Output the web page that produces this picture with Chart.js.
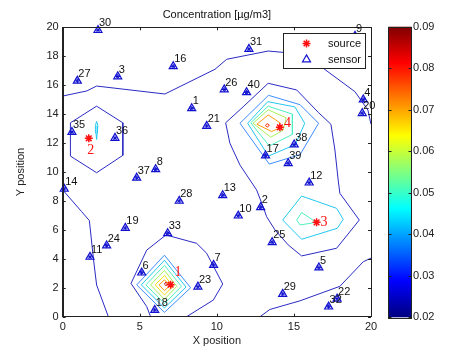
<!DOCTYPE html>
<html><head><meta charset="utf-8">
<script src="https://cdn.jsdelivr.net/npm/chart.js@4/dist/chart.umd.min.js"></script>
<style>html,body{margin:0;padding:0;background:#fff;}</style>
</head><body>
<canvas id="c" width="474" height="355"></canvas>
<script>
// ---------- data ----------
const xTicks = [0, 5, 10, 15, 20];
const yTicks = [0, 2, 4, 6, 8, 10, 12, 14, 16, 18, 20];
const colorbarTicks = [0.02, 0.03, 0.04, 0.05, 0.06, 0.07, 0.08, 0.09];

const sensorIds = [1, 2, 3, 4, 5, 6, 7, 8, 9, 10, 11, 12, 13, 14, 16, 17, 18, 19, 20, 21, 22, 23, 24, 25, 26, 27, 28, 29, 30, 31, 32, 33, 35, 36, 37, 38, 39, 40];
const sensorX = [8.37, 12.84, 3.57, 19.5, 16.62, 5.12, 9.79, 6.03, 18.96, 11.39, 1.77, 15.99, 10.38, 0.1, 7.17, 13.16, 5.97, 4.06, 19.43, 9.34, 17.8, 8.77, 2.85, 13.59, 10.48, 0.95, 7.56, 14.27, 2.29, 12.08, 17.25, 6.81, 0.6, 3.39, 4.8, 15.02, 14.63, 11.93];
const sensorY = [14.4, 7.56, 16.6, 15.0, 3.39, 3.04, 3.57, 10.18, 19.4, 6.98, 4.13, 9.26, 8.39, 8.83, 17.3, 11.13, 0.46, 6.13, 14.06, 13.18, 1.24, 2.07, 4.91, 5.14, 15.7, 16.3, 8.0, 1.57, 19.8, 18.5, 0.69, 5.76, 12.76, 12.35, 9.6, 11.89, 10.6, 15.5];

const sourceIds = [1, 2, 3, 4];
const sourceX = [7.0, 1.69, 16.47, 14.09];
const sourceY = [2.21, 12.33, 6.52, 13.09];

// contour paths [x, y]
const cTopBand = [[0,15.25],[1.56,15.6],[2.2,15.94],[6.63,15.39],[9.88,17.1],[10.64,17.79],[13.33,18.36],[15.0,18.2],[16.9,17.17],[18.96,15.55],[19.8,14.28],[20,13.3]];
const cLeftHex = [[2.2,14.55],[3.9,13.4],[3.9,11.15],[2.2,9.95],[0.5,11.1],[0.5,13.4],[2.2,14.55]];
const cLeftTiny = [[2.2,13.5],[2.28,13.2],[2.24,12.7],[2.2,12.25],[2.16,12.7],[2.12,13.2],[2.2,13.5]];
const cLeftLine = [[0,8.76],[1.23,7.26],[1.73,6.64],[1.99,4.03],[2.2,2.19],[2.96,0]];
const cBottomRight = [[12.8,0],[13.44,0.5],[15.4,1.1],[17.98,2.1],[19.5,3.8],[20,4.05]];
const cS1Outer = [[5.7,0],[5.45,0.7],[4.43,2.3],[5.45,4.6],[6.7,5.65],[8.69,5.07],[9.34,4.38],[10.38,2.26],[9.77,1.15],[8.04,0]];
const cS1L2 = [[6.6,4.25],[8.3,2.0],[6.6,0.3],[4.8,2.2],[6.6,4.25]];
const cS1L3 = [[6.6,3.9],[8.0,2.05],[6.6,0.6],[5.1,2.2],[6.6,3.9]];
const cS1L4 = [[6.6,3.55],[7.7,2.1],[6.6,0.9],[5.4,2.2],[6.6,3.55]];
const cS1L5 = [[6.6,3.2],[7.4,2.1],[6.6,1.2],[5.7,2.2],[6.6,3.2]];
const cS1L6 = [[6.6,2.85],[7.15,2.1],[6.6,1.5],[6.0,2.2],[6.6,2.85]];
const cS1L7 = [[6.6,2.55],[6.95,2.15],[6.6,1.8],[6.25,2.2],[6.6,2.55]];
const cS1L8 = [[6.7,2.4],[6.8,2.25],[6.7,2.15],[6.6,2.25],[6.7,2.4]];
const cEastOuter = [[10.57,13.4],[11.7,14.5],[13.33,16.13],[15.18,15.67],[16.6,14.1],[17.4,13.3],[17.66,11.52],[17.87,9.45],[17.98,8.53],[19.24,6.68],[17.77,4.73],[15.5,4.2],[14.63,4.96],[13.77,6.0],[13.23,6.91],[13.0,7.6],[12.58,8.76],[11.5,10.48],[10.85,11.98],[10.57,13.4]];
const cS4L2 = [[11.5,13.37],[13.35,15.3],[15.4,14.65],[16.6,13.37],[15.4,11.2],[13.4,10.55],[11.5,13.37]];
const cS4L3 = [[12.0,13.37],[13.3,14.86],[15.06,14.5],[15.7,13.37],[15.1,11.9],[13.35,11.1],[12.0,13.37]];
const cS4L4 = [[12.2,13.4],[13.33,14.55],[14.9,14.0],[14.9,12.6],[13.4,11.8],[12.2,13.4]];
const cS4L5 = [[12.35,13.37],[13.33,14.3],[14.5,13.75],[14.3,12.9],[13.5,12.4],[12.35,13.37]];
const cS4L6 = [[12.6,13.3],[13.33,13.94],[14.1,13.4],[14.0,13.0],[13.55,12.8],[12.6,13.3]];
const cS4L8 = [[13.25,13.35],[13.4,13.25],[13.3,13.1],[13.15,13.2],[13.25,13.35]];
const cS3L2 = [[14.27,6.68],[15.5,8.34],[17.77,7.49],[18.2,6.73],[17.81,6.11],[15.5,5.35],[14.27,6.68]];
const cS3L3 = [[15.18,6.68],[15.5,7.2],[16.45,6.52],[15.4,6.34],[15.18,6.68]];

// ---------- helpers ----------
const COL = {
  l1: '#2b2bc4', l2: '#3d8cff', l3: '#22c8f0', l4: '#4ef0c0', l5: '#a8f058',
  l6: '#f0e010', l7: '#ff9a10', l8: '#ff3a10', l9: '#c00000'
};
function toPts(a) { return a.map(p => ({x: p[0], y: p[1]})); }
function line(path, color) {
  return { type: 'line', data: toPts(path), borderColor: color, borderWidth: 1,
    pointRadius: 0, fill: false, tension: 0, showLine: true, order: 5 };
}

const contourSets = [
  line(cTopBand, COL.l1), line(cLeftHex, COL.l1), line(cLeftTiny, COL.l3),
  line(cLeftLine, COL.l1), line(cBottomRight, COL.l1), line(cS1Outer, COL.l1),
  line(cS1L2, COL.l2), line(cS1L3, COL.l3), line(cS1L4, COL.l4), line(cS1L5, COL.l5),
  line(cS1L6, COL.l6), line(cS1L7, COL.l7), line(cS1L8, COL.l9),
  line(cEastOuter, COL.l1), line(cS4L2, COL.l2), line(cS4L3, COL.l3), line(cS4L4, COL.l4),
  line(cS4L5, COL.l5), line(cS4L6, COL.l7), line(cS4L8, COL.l8),
  line(cS3L2, COL.l3), line(cS3L3, COL.l4)
];

const sensorPts = sensorX.map((x, i) => ({x: x, y: sensorY[i]}));
const sourcePts = sourceX.map((x, i) => ({x: x, y: sourceY[i]}));

const datasets = contourSets.concat([
  { type: 'scatter', label: 'sensorStar', data: sensorPts, pointStyle: 'star', pointRadius: 2.5,
    borderColor: '#1010d0', borderWidth: 1, backgroundColor: 'transparent', clip: false, order: 2 },
  { type: 'scatter', label: 'sensor', data: sensorPts, pointStyle: 'triangle', pointRadius: 4.6,
    borderColor: '#1010d0', borderWidth: 1.2, backgroundColor: 'transparent', clip: false, order: 1 },
  { type: 'scatter', label: 'source', data: sourcePts, pointStyle: 'star', pointRadius: 4,
    borderColor: '#ff1010', borderWidth: 1.5, backgroundColor: 'transparent', clip: false, order: 0 }
]);

// jet colour map
function jet(t) {
  const r = Math.min(Math.max(Math.min(4 * t - 1.5, -4 * t + 4.5), 0), 1);
  const g = Math.min(Math.max(Math.min(4 * t - 0.5, -4 * t + 3.5), 0), 1);
  const b = Math.min(Math.max(Math.min(4 * t + 0.5, -4 * t + 2.5), 0), 1);
  return 'rgb(' + Math.round(r * 255) + ',' + Math.round(g * 255) + ',' + Math.round(b * 255) + ')';
}

const overlay = {
  id: 'overlay',
  afterDatasetsDraw(chart) {
    const ctx = chart.ctx, ca = chart.chartArea;
    const xs = chart.scales.x, ys = chart.scales.y;
    ctx.save();
    // frame
    ctx.strokeStyle = '#222'; ctx.lineWidth = 1;
    ctx.strokeRect(Math.round(ca.left) + 0.5, Math.round(ca.top) + 0.5,
      Math.round(ca.right - ca.left), Math.round(ca.bottom - ca.top));
    // inward ticks
    ctx.beginPath();
    xTicks.forEach(v => {
      const px = Math.round(xs.getPixelForValue(v)) + 0.5;
      ctx.moveTo(px, ca.bottom); ctx.lineTo(px, ca.bottom - 3);
      ctx.moveTo(px, ca.top); ctx.lineTo(px, ca.top + 3);
    });
    yTicks.forEach(v => {
      const py = Math.round(ys.getPixelForValue(v)) + 0.5;
      ctx.moveTo(ca.left, py); ctx.lineTo(ca.left + 3, py);
      ctx.moveTo(ca.right, py); ctx.lineTo(ca.right - 3, py);
    });
    ctx.stroke();
    // sensor labels
    ctx.fillStyle = '#111';
    ctx.font = '11px "Liberation Sans", Arial, sans-serif';
    ctx.textAlign = 'left'; ctx.textBaseline = 'middle';
    sensorIds.forEach((id, i) => {
      ctx.fillText(String(id), xs.getPixelForValue(sensorX[i]) + 1, ys.getPixelForValue(sensorY[i]) - 7);
    });
    // source labels
    ctx.fillStyle = '#ff1010';
    ctx.font = '14px "Liberation Serif", "Times New Roman", serif';
    const off = [[4, -12, 'left'], [2, 12, 'center'], [4, 0, 'left'], [4, -4, 'left']];
    sourceIds.forEach((id, i) => {
      ctx.textAlign = off[i][2];
      ctx.fillText(String(id), xs.getPixelForValue(sourceX[i]) + off[i][0], ys.getPixelForValue(sourceY[i]) + off[i][1]);
    });
    // legend box
    const lx = 283.5, ly = 33.5, lw = 82, lh = 35;
    ctx.fillStyle = '#fff'; ctx.fillRect(lx, ly, lw, lh);
    ctx.strokeStyle = '#222'; ctx.lineWidth = 1; ctx.strokeRect(lx, ly, lw, lh);
    ctx.strokeStyle = '#ff1010'; ctx.lineWidth = 1.5;
    Chart.helpers.drawPoint(ctx, {pointStyle: 'star', radius: 4, borderWidth: 1.5}, 306.5, 43.5);
    ctx.strokeStyle = '#1010d0'; ctx.lineWidth = 1.2;
    Chart.helpers.drawPoint(ctx, {pointStyle: 'triangle', radius: 4.6, borderWidth: 1.2}, 306.5, 59.5);
    ctx.fillStyle = '#111'; ctx.font = '11px "Liberation Sans", Arial, sans-serif';
    ctx.textAlign = 'left'; ctx.textBaseline = 'middle';
    ctx.fillText(datasets[datasets.length - 1].label, 328, 43.5);
    ctx.fillText(datasets[datasets.length - 2].label, 328, 59.5);
    // colour bar
    const cbL = 388.5, cbR = 411.5, cbT = 26.7, cbB = 317.3;
    const cmin = colorbarTicks[0], cmax = colorbarTicks[colorbarTicks.length - 1];
    const g = ctx.createLinearGradient(0, cbB, 0, cbT);
    for (let k = 0; k <= 64; k++) g.addColorStop(k / 64, jet(k / 64));
    ctx.fillStyle = g; ctx.fillRect(cbL, cbT, cbR - cbL, cbB - cbT);
    ctx.strokeStyle = '#222'; ctx.lineWidth = 1;
    ctx.strokeRect(cbL, Math.round(cbT) + 0.5, cbR - cbL, Math.round(cbB - cbT));
    ctx.fillStyle = '#222'; ctx.font = '11px "Liberation Sans", Arial, sans-serif';
    ctx.textAlign = 'left'; ctx.textBaseline = 'middle';
    ctx.beginPath();
    colorbarTicks.forEach(v => {
      const py = cbB - (v - cmin) / (cmax - cmin) * (cbB - cbT);
      ctx.moveTo(cbR, Math.round(py) + 0.5); ctx.lineTo(cbR - 3, Math.round(py) + 0.5);
      ctx.moveTo(cbL, Math.round(py) + 0.5); ctx.lineTo(cbL + 3, Math.round(py) + 0.5);
      ctx.fillText(v.toFixed(2), cbR + 1.5, py);
    });
    ctx.stroke();
    ctx.restore();
  }
};

new Chart(document.getElementById('c'), {
  data: { datasets: datasets },
  options: {
    responsive: false, animation: false, devicePixelRatio: 1,
    layout: { padding: { left: 0, right: 103, top: 0, bottom: 0 } },
    plugins: {
      legend: { display: false }, tooltip: { enabled: false },
      title: { display: true, fullSize: false, text: 'Concentration [µg/m3]', color: '#111',
        font: { family: '"Liberation Sans", Arial, sans-serif', size: 11, weight: 'normal', lineHeight: 1.2 },
        padding: { top: 8, bottom: 6.1 } }
    },
    scales: {
      x: { type: 'linear', min: 0, max: 20,
        afterBuildTicks: s => { s.ticks = xTicks.map(v => ({value: v})); },
        afterFit: s => { s.height = 38.3; },
        grid: { display: false, drawTicks: false },
        border: { display: true, color: '#222' },
        ticks: { color: '#222', padding: 4, maxRotation: 0,
          font: { family: '"Liberation Sans", Arial, sans-serif', size: 11 } },
        title: { display: true, text: 'X position', color: '#222', padding: { top: 7.5, bottom: 7.5 },
          font: { family: '"Liberation Sans", Arial, sans-serif', size: 11, lineHeight: 1.2 } }
      },
      y: { type: 'linear', min: 0, max: 20,
        afterBuildTicks: s => { s.ticks = yTicks.map(v => ({value: v})); },
        afterFit: s => { s.width = 62.7; },
        grid: { display: false, drawTicks: false },
        border: { display: true, color: '#222' },
        ticks: { color: '#222', padding: 4,
          font: { family: '"Liberation Sans", Arial, sans-serif', size: 11 } },
        title: { display: true, text: 'Y position', color: '#222', padding: { top: 14.4, bottom: 0 },
          font: { family: '"Liberation Sans", Arial, sans-serif', size: 11, lineHeight: 1.2 } }
      }
    }
  },
  plugins: [overlay]
});
</script>
</body></html>
